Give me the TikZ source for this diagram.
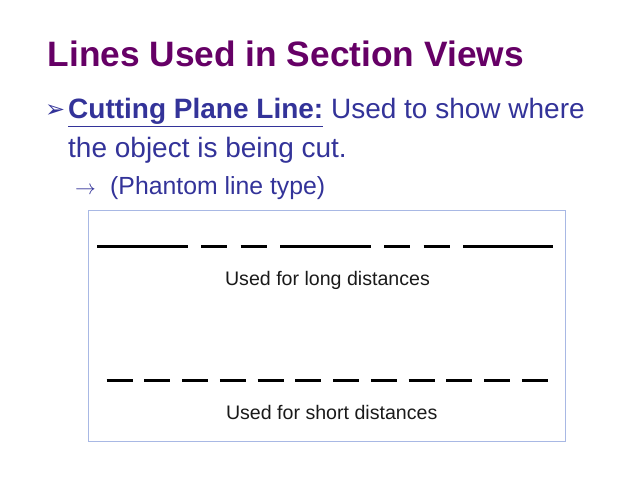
\documentclass[tikz,border=0pt]{standalone}
\usepackage{fontspec}
\setmainfont{Liberation Sans}
\newfontfamily\symbfont{DejaVu Sans}
\usepackage{tikz}
\usetikzlibrary{positioning}
\definecolor{titlepurple}{HTML}{660066}
\definecolor{bodyblue}{HTML}{333399}
\definecolor{boxblue}{HTML}{A8B8E4}
\definecolor{labelgray}{HTML}{1A1A1A}

\begin{document}
\begin{tikzpicture}[x=1pt,y=1pt,
  every node/.style={inner sep=0pt, anchor=base west},
  titletext/.style={font=\fontsize{35.3}{42}\selectfont\bfseries, text=titlepurple},
  bodytext/.style={font=\fontsize{28}{33}\selectfont, text=bodyblue},
  subtext/.style={font=\fontsize{24.8}{29}\selectfont, text=bodyblue},
  labeltext/.style={font=\fontsize{19.6}{23}\selectfont, text=labelgray, anchor=base},
  linesample/.style={line width=3.3pt, black}]
\useasboundingbox (0,0) rectangle (638,478);

% Title and bullet text
\node [titletext] at (47.5,411) (1title) {Lines Used in Section Views};
\node [bodytext, font=\fontsize{24}{28}\selectfont\symbfont] at (45,360) (2arrowhd) {➢};
\node [bodytext] at (68,359) (2cutting) {\underline{\textbf{Cutting Plane Line:}} Used to show where};
\node [bodytext, below=39pt of 2cutting.base west, anchor=base west] (3object) {the object is being cut.};
\node [subtext, font=\fontsize{20}{24}\selectfont] at (75,283) (4arrow) {$\rightarrow$};
\node [subtext] at (110,283) (4phantom) {(Phantom line type)};

% Box with the two line types
\draw [boxblue, line width=1pt] (88,267) rectangle (565,36);
\coordinate (5longa) at (97,231.5);
\coordinate (5longb) at (553,231.5);
\draw [linesample, dash pattern=on 90.5pt off 13.5pt on 26pt off 13.5pt on 26pt off 13.5pt] (5longa) -- (5longb);
\node [labeltext] at (327.5,192) (6long) {Used for long distances};
\coordinate (7shorta) at (106.7,97.5);
\coordinate (7shortb) at (547.7,97.5);
\draw [linesample, dash pattern=on 26pt off 11.75pt] (7shorta) -- (7shortb);
\node [labeltext] at (331.7,58) (8short) {Used for short distances};

\end{tikzpicture}
\end{document}
